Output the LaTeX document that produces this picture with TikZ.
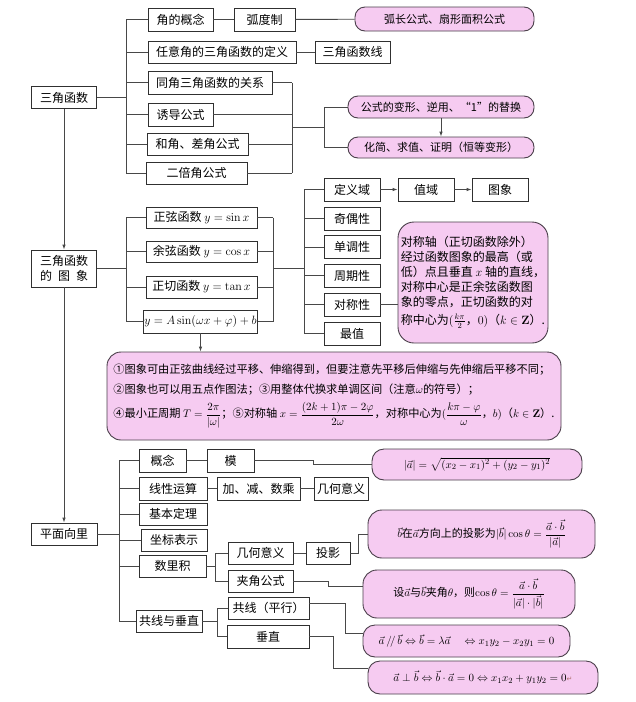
\documentclass[tikz,border=0pt]{standalone}
\usepackage{amsmath,amssymb}
\usepackage[no-math]{fontspec}
\setmainfont{Noto Sans CJK SC}
\newfontfamily\symfont{DejaVu Sans}
\usetikzlibrary{arrows.meta}
\definecolor{Ink}{HTML}{303030}
\definecolor{Wire}{HTML}{484848}
\definecolor{Pink}{HTML}{F6CBF1}
\definecolor{Rim}{HTML}{4A3F4A}
\definecolor{Muted}{HTML}{B07070}
\tikzset{
  >={Latex[length=5pt,width=3.6pt]},
  box/.style={draw=Ink,line width=.9pt,fill=white,inner sep=1pt,minimum height=22pt,font=\fontsize{12}{14}\selectfont},
  note/.style={box,fill=Pink,draw=Rim,rounded corners=8pt,font=\fontsize{11}{14}\selectfont},
  link/.style={draw=Wire,line width=.9pt},
  arr/.style={link,->}
}
\begin{document}
\begin{tikzpicture}[x=1pt,y=-1pt]
  \useasboundingbox (0,0) rectangle (636,702);
  \fill[white] (0,0) rectangle (636,702);
  % trigonometric functions
  \node[box,minimum width=65pt] (trig) at (64,97.5) {三角函数};
  \node[box,minimum width=65pt,minimum height=23pt] (concept) at (180.5,19.5) {角的概念};
  \node[box,minimum width=61pt,minimum height=23pt] (radian) at (264.5,19.5) {弧度制};
  \node[note,minimum width=179pt,minimum height=24pt,rounded corners=10pt] (arcf) at (444.5,19) {弧长公式、扇形面积公式};
  \node[box,minimum width=148pt] (anydef) at (222,52) {任意角的三角函数的定义};
  \node[box,minimum width=75pt] (trigline) at (352.5,52) {三角函数线};
  \node[box,minimum width=124pt,minimum height=23pt] (same) at (210,82.5) {同角三角函数的关系};
  \node[box,minimum width=65pt,minimum height=23pt] (induce) at (180.5,114.5) {诱导公式};
  \node[box,minimum width=101pt] (sumdiff) at (197.5,144) {和角、差角公式};
  \node[box,minimum width=101pt] (double) at (196.5,173) {二倍角公式};
  \node[note,minimum width=186pt,rounded corners=10pt] (transf) at (441,107) {公式的变形、逆用、“1”的替换};
  \node[note,minimum width=186pt,minimum height=21pt,rounded corners=10pt] (simplify) at (441,147.5) {化简、求值、证明（恒等变形）};
  \coordinate (trunkA) at (126,0);
  \coordinate (brA) at (292,0);
  \coordinate (midA) at (292,127.5);
  \coordinate (forkA) at (324,127.5);
  \draw[link] (trig.east) -- (trig.east -| trunkA);
  \draw[link] (concept.west -| trunkA) -- (double.west -| trunkA);
  \foreach \n in {concept,anydef,same,induce,sumdiff,double}
    \draw[link] (\n.west -| trunkA) -- (\n.west);
  \draw[link] (concept) -- (radian);
  \draw[link] (radian) -- (arcf);
  \draw[link] (anydef) -- (trigline);
  \foreach \n in {same,induce,sumdiff,double}
    \draw[link] (\n.east) -- (\n.east -| brA);
  \draw[link] (same.east -| brA) -- (double.east -| brA);
  \draw[link] (midA) -- (forkA);
  \draw[link] (transf.west -| forkA) -- (simplify.west -| forkA);
  \draw[link] (transf.west -| forkA) -- (transf.west);
  \draw[link] (simplify.west -| forkA) -- (simplify.west);
  \draw[arr] (transf.south) -- (simplify.north);
  % graphs
  \node[box,minimum width=65pt,minimum height=37pt,align=center,font=\fontsize{12}{15}\selectfont] (graph) at (64,268.5) {三角函数\\的\hspace{.5em}图\hspace{.5em}象};
  \node[box,minimum width=111pt,minimum height=21pt] (sine) at (201.5,217.5) {正弦函数 $y=\sin x$};
  \node[box,minimum width=111pt,minimum height=21pt] (cosine) at (201.5,251.5) {余弦函数 $y=\cos x$};
  \node[box,minimum width=111pt] (tangent) at (201.5,287) {正切函数 $y=\tan x$};
  \node[box,minimum width=113pt,minimum height=23pt] (general) at (200.5,321.5) {$y=A\sin(\omega x+\varphi)+b$};
  \node[box,minimum width=56pt,minimum height=23pt] (domain) at (352,189.5) {定义域};
  \node[box,minimum width=56pt,minimum height=23pt] (range) at (426,189.5) {值域};
  \node[box,minimum width=56pt,minimum height=23pt] (image) at (500,189.5) {图象};
  \node[box,minimum width=56pt,minimum height=23pt] (parity) at (352,218.5) {奇偶性};
  \node[box,minimum width=56pt,minimum height=23pt] (mono) at (352,247) {单调性};
  \node[box,minimum width=56pt,minimum height=23pt] (period) at (352,275.5) {周期性};
  \node[box,minimum width=56pt,minimum height=23pt] (symm) at (352,304.5) {对称性};
  \node[box,minimum width=56pt,minimum height=23pt] (extreme) at (352,333.5) {最值};
  \node[note,minimum width=150pt,minimum height=121pt,rounded corners=16pt,align=left,font=\fontsize{12}{15}\selectfont] (symnote) at (473,282.5)
    {对称轴（正切函数除外）\\经过函数图象的最高（或\\低）点且垂直 $x$ 轴的直线，\\对称中心是正余弦函数图\\象的零点，正切函数的对\\[3pt]称中心为$(\frac{k\pi}{2}$，$0)$（$k\in\mathbf{Z}$）.};
  \node[note,minimum width=454pt,minimum height=88pt,rounded corners=14pt,align=left,inner sep=4pt,font=\fontsize{11.2}{20}\selectfont] (bigbox) at (334,396)
    {①图象可由正弦曲线经过平移、伸缩得到，但要注意先平移后伸缩与先伸缩后平移不同；\\②图象也可以用五点作图法；③用整体代换求单调区间（注意$\omega$的符号）；\\[4pt]④最小正周期 $T=\dfrac{2\pi}{|\omega|}$；⑤对称轴 $x=\dfrac{(2k+1)\pi-2\varphi}{2\omega}$，对称中心为$(\dfrac{k\pi-\varphi}{\omega}$，$b)$（$k\in\mathbf{Z}$）.};
  \coordinate (trunkB) at (126,0);
  \coordinate (brB) at (273,0);
  \coordinate (midB) at (273,268.5);
  \coordinate (forkB) at (304,268.5);
  \draw[arr] (trig.south) -- (graph.north);
  \draw[link] (graph.east) -- (graph.east -| trunkB);
  \draw[link] (sine.west -| trunkB) -- (general.west -| trunkB);
  \foreach \n in {sine,cosine,tangent,general}
    \draw[link] (\n.west -| trunkB) -- (\n.west);
  \foreach \n in {sine,cosine,tangent,general}
    \draw[link] (\n.east) -- (\n.east -| brB);
  \draw[link] (sine.east -| brB) -- (general.east -| brB);
  \draw[link] (midB) -- (forkB);
  \draw[link] (domain.west -| forkB) -- (extreme.west -| forkB);
  \foreach \n in {domain,parity,mono,period,symm,extreme}
    \draw[link] (\n.west -| forkB) -- (\n.west);
  \draw[arr] (domain) -- (range);
  \draw[arr] (range) -- (image);
  \draw[link] (symm.east) -- (symm.east -| symnote.west);
  \draw[arr] (general.south) -- (general.south |- bigbox.north);
  % plane vectors
  \node[box,minimum width=66pt] (vector) at (64,534) {平面向里};
  \node[box,minimum width=47pt,minimum height=23pt] (concept2) at (162.5,460.5) {概念};
  \node[box,minimum width=47pt,minimum height=23pt] (modulus) at (230.5,460.5) {模};
  \node[note,minimum width=210pt,minimum height=31pt,rounded corners=12pt] (modf) at (477,464.5) {$|\vec{a}|=\sqrt{(x_2-x_1)^2+(y_2-y_1)^2}$};
  \node[box,minimum width=68pt,minimum height=23pt] (linear) at (173,488.5) {线性运算};
  \node[box,minimum width=83pt,minimum height=23pt] (addsub) at (258.5,488.5) {加、减、数乘};
  \node[box,minimum width=54pt,minimum height=23pt] (geom1) at (341,488.5) {几何意义};
  \node[box,minimum width=68pt] (basic) at (173,514) {基本定理};
  \node[box,minimum width=66pt] (coord) at (174,540) {坐标表示};
  \node[box,minimum width=67pt] (dot) at (172.5,566) {数里积};
  \node[box,minimum width=65pt] (geom2) at (260.5,553) {几何意义};
  \node[box,minimum width=44pt] (proj) at (328,553) {投影};
  \node[note,minimum width=227pt,minimum height=48pt,rounded corners=14pt] (projf) at (481.5,534) {$\vec{b}$在$\vec{a}$方向上的投影为$|\vec{b}|\cos\theta=\dfrac{\vec{a}\cdot\vec{b}}{|\vec{a}|}$};
  \node[box,minimum width=65pt] (angle) at (260.5,581) {夹角公式};
  \node[note,minimum width=212pt,minimum height=48pt,rounded corners=14pt] (anglef) at (469,594) {设$\vec{a}$与$\vec{b}$夹角$\theta$，则$\cos\theta=\dfrac{\vec{a}\cdot\vec{b}}{|\vec{a}|\cdot|\vec{b}|}$};
  \node[box,minimum width=66pt] (collin) at (169,621) {共线与垂直};
  \node[box,minimum width=81pt] (parallel) at (268.5,608) {共线（平行）};
  \node[box,minimum width=82pt,minimum height=23pt] (perp) at (268,636.5) {垂直};
  \node[note,minimum width=207pt,minimum height=32pt,rounded corners=12pt] (parallelf) at (466.5,641) {$\vec{a}\,/\!/\,\vec{b}\Leftrightarrow\vec{b}=\lambda\vec{a}\quad\Leftrightarrow x_1y_2-x_2y_1=0$};
  \node[note,minimum width=230pt,minimum height=33pt,rounded corners=12pt] (perpf) at (483,677.5) {$\vec{a}\perp\vec{b}\Leftrightarrow\vec{b}\cdot\vec{a}=0\Leftrightarrow x_1x_2+y_1y_2=0${\symfont\fontsize{7}{8}\selectfont\textcolor{Muted}{↵}}};
  \coordinate (trunkC) at (119,0);
  \coordinate (forkC) at (215,566);
  \coordinate (forkD) at (217,621);
  \draw[arr] (graph.south) -- (vector.north);
  \draw[link] (vector.east) -- (vector.east -| trunkC);
  \draw[link] (concept2.west -| trunkC) -- (collin.west -| trunkC);
  \foreach \n in {concept2,linear,basic,coord,dot,collin}
    \draw[link] (\n.west -| trunkC) -- (\n.west);
  \draw[link] (concept2) -- (modulus);
  \draw[link] (modulus.east) -- ++(59,0) |- (modf.west);
  \draw[link] (linear) -- (addsub);
  \draw[link] (addsub) -- (geom1);
  \draw[link] (dot.east) -- (forkC);
  \draw[link] (geom2.west -| forkC) -- (angle.west -| forkC);
  \draw[link] (geom2.west -| forkC) -- (geom2.west);
  \draw[link] (angle.west -| forkC) -- (angle.west);
  \draw[link] (geom2) -- (proj);
  \draw[link] (proj.east) -- ++(8,0) |- (projf.west);
  \draw[link] (angle.east) -- ++(35,0) |- ([yshift=8pt]anglef.west);
  \draw[link] (collin.east) -- (forkD);
  \draw[link] (parallel.west -| forkD) -- (perp.west -| forkD);
  \draw[link] (parallel.west -| forkD) -- (parallel.west);
  \draw[link] (perp.west -| forkD) -- (perp.west);
  \draw[link] ([yshift=5pt]parallel.east) -- ++(36,0) |- ([yshift=8pt]parallelf.west);
  \draw[link] (perp.east) -- ++(24,0) |- ([yshift=9pt]perpf.west);
\end{tikzpicture}
\end{document}
